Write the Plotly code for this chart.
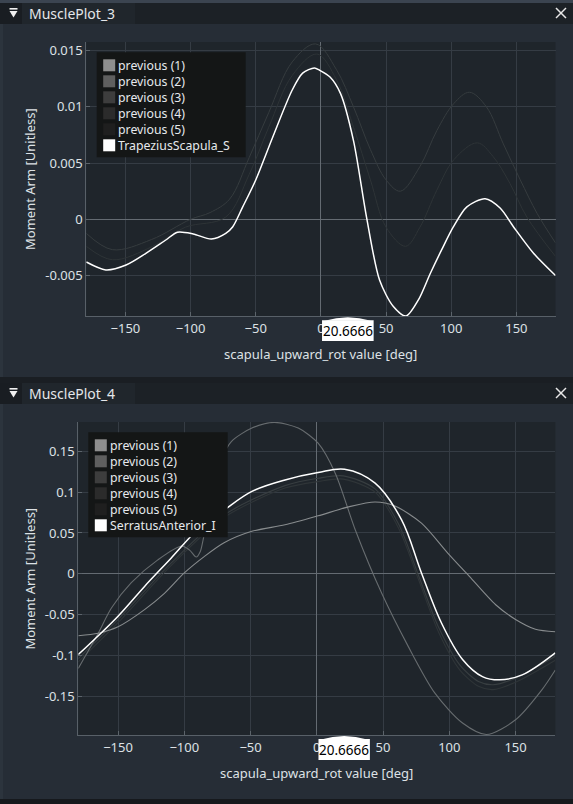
import plotly.graph_objects as go

W, H = 573, 804
FONT = "Noto Sans"

# ---------------- MusclePlot_3 (top) ----------------
top_name = "TrapeziusScapula_S"
top_x = [-180, -165, -149.5, -134, -119, -110, -98, -84, -73, -67.6, -60, -50, -37,
         -22, -14, -5, -1, 7, 15, 25, 35, 45, 55.6, 65.4, 74.8, 84, 92.7, 101.7,
         112, 126, 137.5, 147.7, 163, 180]
top_y = [-0.0038, -0.0045, -0.00406, -0.0030, -0.00184, -0.00115, -0.0013, -0.00175,
         -0.00125, -0.00066, 0.0011, 0.0035, 0.0073, 0.0115, 0.0130, 0.01346, 0.01326,
         0.01266, 0.0112, 0.0070, 0.0002, -0.0054, -0.00776, -0.0086, -0.00717, -0.0048,
         -0.0027, -0.00066, 0.0011, 0.00183, 0.0010, -0.00066, -0.0030, -0.0050]

top_prev_a_x = [-180, -160, -130, -100, -85, -70, -55, -40, -22, -4, 12, 25, 38, 50,
                61, 76, 89, 102, 114, 127, 140, 153, 166, 180]
top_prev_a_y = [-0.00125, -0.0027, -0.0018, 0.0, 0.0006, 0.0018, 0.0055, 0.0095,
                0.0140, 0.0156, 0.0133, 0.0100, 0.0062, 0.0035, 0.0025, 0.0047,
                0.0079, 0.0103, 0.0113, 0.0100, 0.0067, 0.0035, 0.0005, -0.0021]

top_prev_b_x = [-180, -160, -129, -104, -73, -55, -40, -22, -3, 12, 25, 38, 50, 65,
                76, 89, 102, 120, 132, 145, 158, 180]
top_prev_b_y = [-0.0024, -0.0036, -0.0024, -0.0007, 0.0002, 0.0040, 0.0082, 0.0128,
                0.0147, 0.0124, 0.0082, 0.0035, -0.0007, -0.0024, -0.0007, 0.0026,
                0.0053, 0.0068, 0.0056, 0.0032, 0.0002, -0.0033]

top_yrange = [-0.0086, 0.01577]
top_yticks = [-0.005, 0, 0.005, 0.01, 0.015]
top_yticktext = ["-0.005", "0", "0.005", "0.01", "0.015"]

# ---------------- MusclePlot_4 (bottom) ----------------
bot_name = "SerratusAnterior_I"
bot_x = [-180, -150, -130, -110, -90, -70, -49, -24, 1, 21, 44, 64, 79, 94, 110,
         125, 138, 155, 180]
bot_y = [-0.099, -0.052, -0.0155, 0.019, 0.054, 0.078, 0.101, 0.115, 0.124, 0.128,
         0.111, 0.066, 0.001, -0.060, -0.105, -0.126, -0.130, -0.124, -0.097]

bot_prev1_x = [-180, -165, -150, -130, -115, -100, -85, -70, -49, -24, 1, 24, 44, 59,
               79, 99, 115, 135, 150, 165, 180]
bot_prev1_y = [-0.076, -0.073, -0.065, -0.044, -0.024, 0.001, 0.021, 0.038, 0.052,
               0.060, 0.071, 0.082, 0.088, 0.083, 0.062, 0.025, -0.003, -0.038,
               -0.056, -0.068, -0.071]

bot_prev2_x = [-180, -165, -155, -140, -120, -102, -96, -91, -88, -85.5, -82, -77,
               -72, -64.5, -49, -32, -14, 1, 14, 29, 49, 69, 89, 110, 128, 150, 170, 180]
bot_prev2_y = [-0.116, -0.073, -0.042, -0.011, 0.017, 0.034, 0.029, 0.0205, 0.027,
               0.044, 0.070, 0.111, 0.140, 0.162, 0.1785, 0.1855, 0.1785, 0.160, 0.123,
               0.054, -0.024, -0.089, -0.146, -0.183, -0.197, -0.179, -0.142, -0.118]

bot_prev3_x = [-180, -150, -110, -70, -24, 1, 20, 44, 62, 77, 92, 108, 122, 133, 150, 180]
bot_prev3_y = [-0.104, -0.056, 0.013, 0.072, 0.108, 0.117, 0.120, 0.104, 0.060,
               -0.003, -0.066, -0.112, -0.132, -0.136, -0.128, -0.101]
bot_prev4_y = [-0.108, -0.060, 0.010, 0.069, 0.105, 0.113, 0.116, 0.100, 0.055,
               -0.008, -0.072, -0.118, -0.138, -0.142, -0.133, -0.106]

bot_yrange = [-0.198, 0.186]
bot_yticks = [-0.15, -0.1, -0.05, 0, 0.05, 0.1, 0.15]
bot_yticktext = ["-0.15", "-0.1", "-0.05", "0", "0.05", "0.1", "0.15"]

x_ticks = [-150, -100, -50, 0, 50, 100, 150]
x_title = "scapula_upward_rot value [deg]"
y_title = "Moment Arm [Unitless]"
marker_value = 20.6666

legend_names = ["previous (1)", "previous (2)", "previous (3)", "previous (4)", "previous (5)"]
legend_colors = ["#8e8e8e", "#5f5f5f", "#3d3d3d", "#2b2b2b", "#1f1f1f"]


def X(px):
    return px / W


def Y(py):
    return 1 - py / H


shapes = []
annotations = []


def rect(x0, y0, x1, y1, color, layer="below"):
    shapes.append(dict(type="rect", xref="paper", yref="paper", x0=X(x0), x1=X(x1),
                       y0=Y(y1), y1=Y(y0), fillcolor=color, line_width=0, layer=layer))


def text(px, py, s, size=13, color="#dde1e5", xanchor="left", angle=0, xref="paper", x=None):
    annotations.append(dict(text=s, x=X(px) if x is None else x, y=Y(py), xref=xref, yref="paper",
                            xanchor=xanchor, yanchor="middle", showarrow=False, textangle=angle,
                            font=dict(family=FONT, size=size, color=color)))


def window(bar_top, bar_bot, body_bot, title):
    rect(0, bar_top, W, bar_bot, "#1c2126")
    rect(0, bar_top, 22, bar_bot, "#191d22")
    rect(22, bar_top, 135, bar_bot, "#20262c")
    rect(0, bar_bot, W, body_bot, "#262d36")
    rect(0, bar_bot, 3, body_bot, "#2c343d")
    # collapse icon
    cy = bar_top + 5
    rect(9.5, cy, 17.5, cy + 1.6, "#f0f0f0", layer="above")
    shapes.append(dict(type="path", xref="paper", yref="paper", fillcolor="#f0f0f0", line_width=0,
                       path="M %f,%f L %f,%f L %f,%f Z" % (X(9.5), Y(cy + 3), X(17.5), Y(cy + 3),
                                                         X(13.5), Y(cy + 9.5))))
    # close cross
    for a, b in [((556, bar_top + 5), (566, bar_top + 15)), ((556, bar_top + 15), (566, bar_top + 5))]:
        shapes.append(dict(type="line", xref="paper", yref="paper", x0=X(a[0]), y0=Y(a[1]),
                           x1=X(b[0]), y1=Y(b[1]), line=dict(color="#e8e8e8", width=1.5)))
    text(27, (bar_top + bar_bot) / 2, title, size=14, color="#e4e7ea")


rect(0, 0, W, 3, "#3b4450")
window(3, 24, 377, "MusclePlot_3")
rect(0, 377, W, 383, "#1a1e23")
window(383, 404, 799, "MusclePlot_4")
rect(0, 799, W, H, "#16191d")

# plot backgrounds
rect(86.3, 42, 555.5, 316, "#1f252b")
rect(78.3, 422, 555.3, 735.3, "#1f252b")


def legend(x0, y0, x1, y1, current):
    rect(x0, y0, x1, y1, "#141616", layer="above")
    names = legend_names + [current]
    colors = legend_colors + ["#ffffff"]
    for i, (n, c) in enumerate(zip(names, colors)):
        cy = y0 + 13 + 16 * i
        rect(x0 + 6.5, cy - 6, x0 + 18.5, cy + 6, c, layer="above")
        text(x0 + 19.5, cy, n, size=12.3, color="#e6e9ec")


legend(96.7, 52.3, 245.7, 157.3, top_name)
legend(88.3, 432.3, 227.7, 537.3, bot_name)


def value_tag(xref, cy, half):
    shapes.append(dict(type="rect", xref=xref, yref="paper", x0=marker_value - half,
                       x1=marker_value + half, y0=Y(cy + 10.3), y1=Y(cy - 10.5),
                       fillcolor="#ffffff", line_width=0, layer="above"))
    shapes.append(dict(type="path", xref=xref, yref="paper", fillcolor="#ffffff", line_width=0,
                       layer="above",
                       path="M %f,%f Q %f,%f %f,%f Z" % (marker_value - half * 0.9, Y(cy - 10),
                                                         marker_value, Y(cy - 17),
                                                         marker_value + half * 0.9, Y(cy - 10))))
    text(0, cy, "%.4f" % marker_value, size=13.5, color="#000000", xanchor="center",
         xref=xref, x=marker_value)


value_tag("x", 330.7, 19.8)
value_tag("x2", 749.6, 19.4)

text(320.9, 354, x_title, size=13, xanchor="center")
text(78.3 + (555.3 - 78.3) / 2, 773, x_title, size=13, xanchor="center")
text(30, 179, y_title, size=13, xanchor="center", angle=-90)
text(30, 578.6, y_title, size=13, xanchor="center", angle=-90)

fig = go.Figure()

top_prev = [(top_prev_a_x, top_prev_a_y, "#363c3f"), (top_prev_b_x, top_prev_b_y, "#2e3437")]
for xs, ys, col in top_prev:
    fig.add_trace(go.Scatter(x=xs, y=ys, mode="lines", line=dict(color=col, width=1, shape="spline"),
                             xaxis="x", yaxis="y", showlegend=False, hoverinfo="skip"))
fig.add_trace(go.Scatter(x=top_x, y=top_y, mode="lines", name=top_name,
                         line=dict(color="#ffffff", width=1.5, shape="spline", smoothing=0.8),
                         xaxis="x", yaxis="y", showlegend=False))

bot_prev = [(bot_prev3_x, bot_prev4_y, "#2f3538"), (bot_prev3_x, bot_prev3_y, "#383e41"),
            (bot_prev2_x, bot_prev2_y, "#676c6f"), (bot_prev1_x, bot_prev1_y, "#878b8d")]
for xs, ys, col in bot_prev:
    fig.add_trace(go.Scatter(x=xs, y=ys, mode="lines", line=dict(color=col, width=1.1, shape="spline",
                                                                 smoothing=0.8),
                             xaxis="x2", yaxis="y2", showlegend=False, hoverinfo="skip"))
fig.add_trace(go.Scatter(x=bot_x, y=bot_y, mode="lines", name=bot_name,
                         line=dict(color="#ffffff", width=1.5, shape="spline"),
                         xaxis="x2", yaxis="y2", showlegend=False))

axis_common = dict(showgrid=True, gridcolor="#353c44", gridwidth=1, zeroline=True,
                   zerolinecolor="#646b72", zerolinewidth=1, showline=True, linecolor="#586068",
                   linewidth=1, ticks="inside", ticklen=4, tickcolor="#5c646b",
                   tickfont=dict(family=FONT, size=13, color="#dde1e5"), automargin=False,
                   fixedrange=True)

fig.update_layout(
    width=W, height=H, margin=dict(l=0, r=0, t=0, b=0),
    paper_bgcolor="#262d36", plot_bgcolor="rgba(0,0,0,0)",
    showlegend=False, shapes=shapes, annotations=annotations,
    xaxis=dict(domain=[X(86.3), X(555.5)], range=[-180, 180], tickvals=x_ticks, anchor="y",
               **axis_common),
    yaxis=dict(domain=[Y(316), Y(42)], range=top_yrange, tickvals=top_yticks,
               ticktext=top_yticktext, anchor="x", **axis_common),
    xaxis2=dict(domain=[X(78.3), X(555.3)], range=[-180, 180], tickvals=x_ticks, anchor="y2",
                **axis_common),
    yaxis2=dict(domain=[Y(735.3), Y(422)], range=bot_yrange, tickvals=bot_yticks,
                ticktext=bot_yticktext, anchor="x2", **axis_common),
)

fig.write_html("out.html", config={"displayModeBar": False},
               post_script="document.body.style.margin='0';document.body.style.overflow='hidden';")
